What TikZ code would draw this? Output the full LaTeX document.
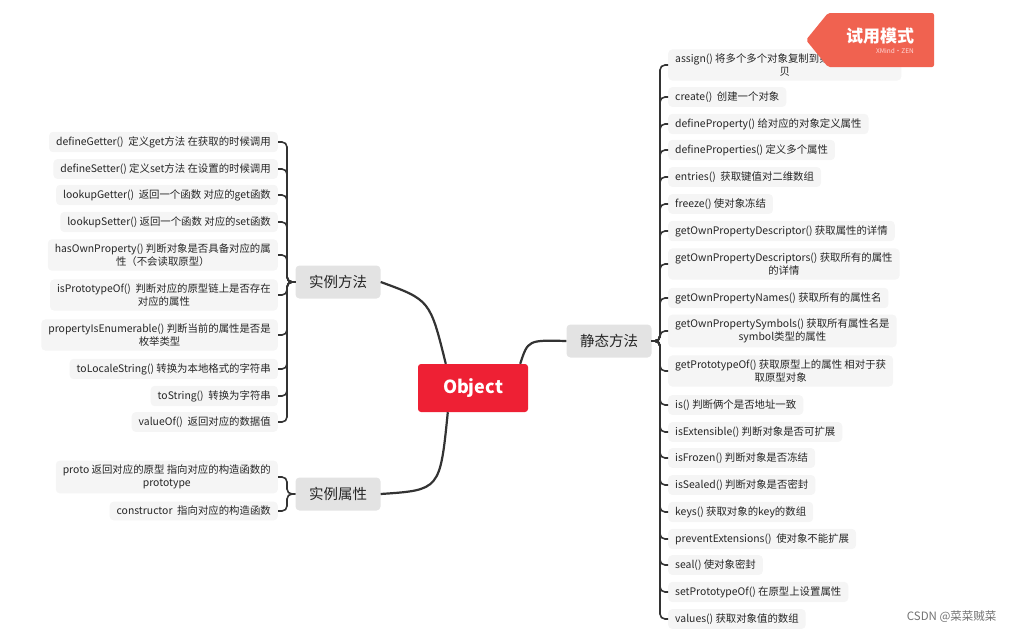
\documentclass[tikz,border=0pt]{standalone}
\usepackage{fontspec}
\setmainfont{Noto Sans CJK SC}
\begin{document}
\begin{tikzpicture}[x=1pt,y=-1pt,
 leaf/.style={fill=black!4,rounded corners=4pt,inner xsep=7pt,inner ysep=4.5pt,font=\fontsize{10.4}{12.5}\selectfont,text=black!85,align=center},
 cat/.style={fill=black!11,rounded corners=4pt,minimum width=85pt,minimum height=33pt,font=\fontsize{14.5}{16}\selectfont,text=black!85},
 conn/.style={draw=black!80,line width=2.2pt},
 br/.style={draw=black!80,line width=1.6pt,rounded corners=5pt}]
\useasboundingbox (0,0) rectangle (1013,635);
\node[fill={rgb,255:red,238;green,32;blue,52},rounded corners=3pt,minimum width=110pt,minimum height=48pt,text=white,font=\fontsize{18}{20}\selectfont\bfseries] (obj) at (473,388) {Object};
\node[cat] (im) at (338,282) {实例方法};
\node[cat] (ip) at (338,494) {实例属性};
\node[cat] (sm) at (609,341) {静态方法};
\draw[conn] (obj.north west) ++(28,0) coordinate (o1) .. controls (430,300) .. (im.east);
\draw[conn] (obj.south west) ++(30,0) coordinate (o2) .. controls (440,490) .. (ip.east);
\draw[conn] (obj.north east) ++(-8,0) coordinate (o3) .. controls (528,340) .. (sm.west);
% right leaves
\foreach \n/\y/\t in {r1/65/{assign() 将多个多个对象复制到第一个对象 浅拷\\贝},r2/97/{create()\ \ 创建一个对象},r3/124/{defineProperty() 给对应的对象定义属性},r4/150/{defineProperties() 定义多个属性},r5/177/{entries()\ \ 获取键值对二维数组},r6/204/{freeze() 使对象冻结},r7/231/{getOwnPropertyDescriptor() 获取属性的详情},r8/264/{getOwnPropertyDescriptors() 获取所有的属性\\的详情},r9/298/{getOwnPropertyNames() 获取所有的属性名},r10/331/{getOwnPropertySymbols() 获取所有属性名是\\symbol类型的属性},r11/371/{getPrototypeOf() 获取原型上的属性 相对于获\\取原型对象},r12/405/{is() 判断俩个是否地址一致},r13/432/{isExtensible() 判断对象是否可扩展},r14/458/{isFrozen() 判断对象是否冻结},r15/485/{isSealed() 判断对象是否密封},r16/512/{keys() 获取对象的key的数组},r17/539/{preventExtensions()\ \ 使对象不能扩展},r18/565/{seal() 使对象密封},r19/592/{setPrototypeOf() 在原型上设置属性},r20/619/{values() 获取对象值的数组}}{
 \node[leaf,anchor=west] (\n) at (668,\y) {\t};
 \draw[br] (sm.east) -- (660,341) -- (660,\y) -- (\n.west);
}
% left leaves
\foreach \n/\y/\t in {l1/142/{defineGetter()\ \ 定义get方法 在获取的时候调用},l2/169/{defineSetter() 定义set方法 在设置的时候调用},l3/195/{lookupGetter()\ \ 返回一个函数 对应的get函数},l4/222/{lookupSetter() 返回一个函数 对应的set函数},l5/255/{hasOwnProperty() 判断对象是否具备对应的属\\性（不会读取原型）},l6/295/{isPrototypeOf()\ \ 判断对应的原型链上是否存在\\对应的属性},l7/335/{propertyIsEnumerable() 判断当前的属性是否是\\枚举类型},l8/369/{toLocaleString() 转换为本地格式的字符串},l9/396/{toString()\ \ 转换为字符串},l10/422/{valueOf()\ \ 返回对应的数据值}}{
 \node[leaf,anchor=east] (\n) at (278,\y) {\t};
 \draw[br] (im.west) -- (287,282) -- (287,\y) -- (\n.east);
}
\foreach \n/\y/\t in {p1/477/{proto 返回对应的原型 指向对应的构造函数的\\prototype},p2/511/{constructor\ \ 指向对应的构造函数}}{
 \node[leaf,anchor=east] (\n) at (278,\y) {\t};
 \draw[br] (ip.west) -- (287,494) -- (287,\y) -- (\n.east);
}
% trial badge
\fill[fill={rgb,255:red,240;green,98;blue,80},rounded corners=2pt] (934,13) -- (934,67) -- (828,67) -- (806,40) -- (828,13) -- cycle;
\node[text=white,font=\fontsize{17}{19}\selectfont\bfseries] (tm) at (880,36) {试用模式};
\node[text=white!85!red,font=\fontsize{6.5}{7}\selectfont] (xm) at (895,51) {XMind·ZEN};
\node[text=black!55,font=\fontsize{11.5}{13}\selectfont,anchor=east] (wm) at (1000,617) {CSDN @菜菜贼菜};
\end{tikzpicture}
\end{document}
